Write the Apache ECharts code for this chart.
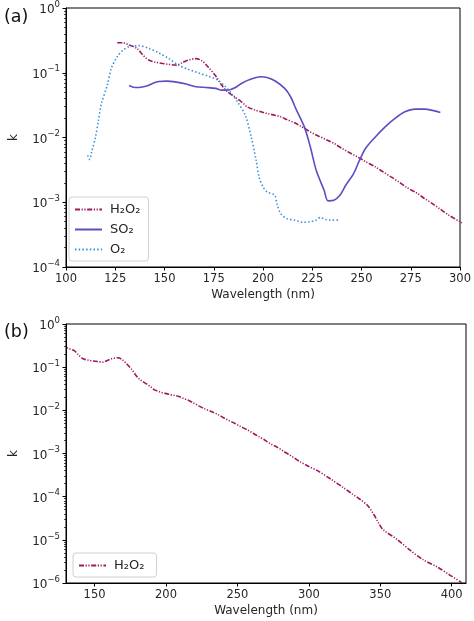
<!DOCTYPE html>
<html><head><meta charset="utf-8">
<script src="https://cdn.jsdelivr.net/npm/echarts@6/dist/echarts.min.js"></script>
<style>html,body{margin:0;padding:0;background:#fff}#c{width:474px;height:621px}</style>
</head><body><div id="c"></div>
<script>
// ---- data ----
const h2o2Wl = [126,129,132,136,139,142,146,149,152,156,159,162,166,169,172,176,179,182,186,189,192,196,199,202,206,209,212,216,219,223,227,232,236,240,244,248,252,257,261,265,269,273,278,282,286,290,294,300,306,315,324,331,336,341,345,349,352,362,371,380,390,399,407];
const h2o2K  = [0.29,0.29,0.268,0.238,0.188,0.157,0.144,0.139,0.135,0.131,0.143,0.157,0.165,0.153,0.124,0.0888,0.0645,0.0508,0.0416,0.0356,0.0298,0.0265,0.0249,0.0235,0.0221,0.0209,0.019,0.0169,0.015,0.0127,0.0109,0.0093,0.0081,0.0068,0.0058,0.005,0.00425,0.00352,0.00294,0.00246,0.00206,0.00169,0.00139,0.00114,0.00095,0.00078,0.00064,0.0005,0.0004,0.00026,0.000163,0.000112,0.000086,0.000063,0.000041,0.000024,0.0000172,0.0000101,0.0000057,0.00000347,0.00000234,0.0000015,0.00000102];
const so2Wl = [132,135,137,141,144,147,151,156,161,166,171,176,179,182,186,189,194,199,202,206,211,214,217,221,224,227,231,233,236,239,242,246,249,252,257,262,267,272,277,282,287,290];
const so2K  = [0.0637,0.0593,0.0593,0.0622,0.0684,0.0734,0.0743,0.0717,0.0668,0.0608,0.0593,0.0573,0.054,0.054,0.0593,0.0684,0.0798,0.0867,0.0847,0.0752,0.0573,0.0426,0.0265,0.0146,0.00718,0.00312,0.00153,0.00105,0.00107,0.00128,0.00183,0.00277,0.00446,0.00676,0.0102,0.0146,0.0197,0.0249,0.0274,0.0274,0.0258,0.0244];
const o2Wl = [111,112,113,115,116.5,118,121,123,126,129,132,137,142,147,152,157,162,167,172,177,181,184,187,191,194,196.5,198,200,202,206,207,209,212,216,220,224,227,229,232,235,238];
const o2K  = [0.00533,0.00457,0.006,0.0102,0.0185,0.0336,0.0645,0.117,0.177,0.224,0.252,0.262,0.238,0.204,0.167,0.131,0.113,0.1,0.0888,0.077,0.0608,0.0479,0.0356,0.0221,0.0102,0.00446,0.00246,0.00173,0.00145,0.00128,0.00095,0.00067,0.00056,0.00053,0.00049,0.0005,0.00053,0.00058,0.00054,0.00053,0.00053];
const xTicksA = [100,125,150,175,200,225,250,275,300];
const xTicksB = [150,200,250,300,350,400];
const yTicksA = [1e-4,1e-3,1e-2,1e-1,1];
const yTicksB = [1e-6,1e-5,1e-4,1e-3,1e-2,1e-1,1];
const panelLabels = ['(a)','(b)'];
const xTitle = 'Wavelength (nm)';
const yTitle = 'k';
const names = {h2o2:'H₂O₂', so2:'SO₂', o2:'O₂'};

function minorVals(ticks){
  const out=[];
  for(let i=0;i<ticks.length-1;i++){ for(let m=2;m<=9;m++) out.push(ticks[i]*m); }
  return out;
}
function pairs(xs,ys){ return xs.map((x,i)=>[x,ys[i]]); }

const colH = '#a0185f', colS = '#5a4ec0', colO = '#3a8fdc';
const txt = '#262626';
const FONT = 'DejaVu Sans';

function yLabel(v){
  const e = Math.round(Math.log10(v));
  return '{b|10}{s|' + String(e).replace('-','\u2212') + '}';
}
const yRich = {
  b:{fontSize:12, fontFamily:FONT, color:txt, lineHeight:16, verticalAlign:'bottom'},
  s:{fontSize:8.5, fontFamily:FONT, color:txt, lineHeight:11, verticalAlign:'top'}
};

function xAx(idx, min, max, ticks){
  return {
    type:'value', gridIndex:idx, min:min, max:max,
    name:xTitle, nameLocation:'middle', nameGap:22,
    nameTextStyle:{fontSize:12, fontFamily:FONT, color:txt},
    axisLine:{show:true, onZero:false, lineStyle:{color:'#000', width:1}},
    axisTick:{show:true, length:3.5, lineStyle:{color:'#000', width:1}, customValues:ticks},
    axisLabel:{fontSize:11.5, fontFamily:FONT, color:txt, margin:6, customValues:ticks},
    splitLine:{show:false}
  };
}
function yAx(idx, min, max, ticks){
  return {
    type:'log', gridIndex:idx, min:min, max:max, logBase:10, position:'left',
    name:yTitle, nameLocation:'middle', nameGap:46, nameRotate:90,
    nameTextStyle:{fontSize:12, fontFamily:FONT, color:txt},
    axisLine:{show:true, lineStyle:{color:'#000', width:1}},
    axisTick:{show:true, length:3.5, lineStyle:{color:'#000', width:1}, customValues:ticks},
    axisLabel:{margin:6, formatter:yLabel, rich:yRich, customValues:ticks},
    splitLine:{show:false}
  };
}
function yMinor(idx, min, max, ticks){
  return {
    type:'log', gridIndex:idx, min:min, max:max, logBase:10, position:'left', offset:0,
    axisLine:{show:false},
    axisTick:{show:true, length:2, lineStyle:{color:'#000', width:0.7}, customValues:minorVals(ticks)},
    axisLabel:{show:false},
    splitLine:{show:false}
  };
}

const dashH = [5,1.6,1.2,1.6,1.2,1.6];
const dotO = [1.5,2.2];

const legendBase = {
  orient:'vertical', itemWidth:27, itemHeight:10, itemGap:7,
  padding:[6,8,5,5], borderColor:'#d0d0d0', borderWidth:1, borderRadius:3, backgroundColor:'rgba(255,255,255,0.8)',
  itemStyle:{opacity:0},
  textStyle:{fontSize:13, fontFamily:FONT, color:txt, padding:[0,0,0,3]}
};

const option = {
  animation:false,
  backgroundColor:'#fff',
  textStyle:{fontFamily:FONT},
  title:[
    {text:panelLabels[0], left:-1, top:3, textStyle:{fontSize:17.5, fontWeight:'normal', fontFamily:FONT, color:'#111'}},
    {text:panelLabels[1], left:-1, top:318, textStyle:{fontSize:17.5, fontWeight:'normal', fontFamily:FONT, color:'#111'}}
  ],
  grid:[
    {left:62, top:8, width:400, height:259, show:true, borderColor:'#000', borderWidth:1, backgroundColor:'transparent'},
    {left:66, top:324, width:400, height:259, show:true, borderColor:'#000', borderWidth:1, backgroundColor:'transparent'}
  ],
  xAxis:[ xAx(0,100,300,xTicksA), xAx(1,130,410,xTicksB) ],
  yAxis:[ yAx(0,1e-4,1,yTicksA), yAx(1,1e-6,1,yTicksB), yMinor(0,1e-4,1,yTicksA), yMinor(1,1e-6,1,yTicksB) ],
  legend:[
    Object.assign({}, legendBase, {left:69, top:197, data:[names.h2o2, names.so2, names.o2]}),
    Object.assign({}, legendBase, {left:73, top:553, data:[names.h2o2+' ']})
  ],
  series:[
    {name:names.h2o2, type:'line', xAxisIndex:0, yAxisIndex:0, data:pairs(h2o2Wl,h2o2K), symbol:'none', smooth:0.3,
     lineStyle:{color:colH, width:1.6, type:dashH}, itemStyle:{color:colH}},
    {name:names.so2, type:'line', xAxisIndex:0, yAxisIndex:0, data:pairs(so2Wl,so2K), symbol:'none', smooth:0.3,
     lineStyle:{color:colS, width:1.6}, itemStyle:{color:colS}},
    {name:names.o2, type:'line', xAxisIndex:0, yAxisIndex:0, data:pairs(o2Wl,o2K), symbol:'none', smooth:0.3,
     lineStyle:{color:colO, width:1.6, type:dotO}, itemStyle:{color:colO}},
    {name:names.h2o2+' ', type:'line', xAxisIndex:1, yAxisIndex:1, data:pairs(h2o2Wl,h2o2K), symbol:'none', smooth:0.3,
     lineStyle:{color:colH, width:1.6, type:dashH}, itemStyle:{color:colH}}
  ]
};
const chart = echarts.init(document.getElementById('c'));
chart.setOption(option);
</script></body></html>
